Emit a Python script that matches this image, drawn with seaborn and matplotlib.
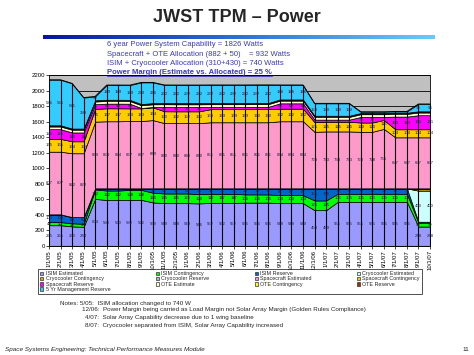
import numpy as np
import pandas as pd
import seaborn as sns
import matplotlib.pyplot as plt
from matplotlib.patches import Patch
from matplotlib.lines import Line2D

# dados ------------------------------------------------------------------------
datas = ['1/1/05', '2/1/05', '3/1/05', '4/1/05', '5/1/05', '6/1/05', '7/1/05', '8/1/05',
         '9/1/05', '10/1/05', '11/1/05', '12/1/05', '1/1/06', '2/1/06', '3/1/06', '4/1/06',
         '5/1/06', '6/1/06', '7/1/06', '8/1/06', '9/1/06', '10/1/06', '11/1/06', '12/1/06',
         '1/1/07', '2/1/07', '3/1/07', '4/1/07', '5/1/07', '6/1/07', '7/1/07', '8/1/07',
         '9/1/07', '10/1/07']

isim_est = [265, 265, 250, 244, 604, 590, 590, 592, 592, 559, 549, 549, 549, 546, 552, 552, 552,
            556, 556, 556, 549, 549, 549, 459, 459, 565, 565, 565, 565, 565, 565, 565, 248, 248]
isim_cont = [40, 40, 40, 40, 122, 122, 122, 128, 128, 125, 125, 125, 125, 120, 117, 117, 117,
             106, 106, 106, 104, 104, 104, 125, 125, 105, 105, 105, 105, 105, 105, 105, 50, 50]
isim_res = [100, 100, 80, 86, 14, 28, 28, 20, 20, 56, 66, 66, 66, 74, 71, 71, 71,
            78, 78, 78, 87, 87, 87, 156, 156, 70, 70, 70, 70, 70, 70, 70, 12, 12]
cryo_est = [0] * 32 + [400, 400]
cryo_cont = [0] * 32 + [20, 20]
cryo_res = [0] * 32 + [10, 10]
sc_est = [807, 807, 822, 822, 859, 864, 864, 867, 867, 879, 840, 840, 840, 840, 851, 851, 851,
          851, 851, 851, 864, 864, 864, 728, 733, 733, 733, 728, 728, 766, 657, 657, 657, 657]
sc_cont = [165, 165, 154, 154, 165, 167, 167, 163, 163, 164, 153, 152, 152, 152, 169, 169, 169,
           169, 170, 170, 162, 162, 162, 125, 125, 125, 125, 120, 120, 115, 104, 104, 104, 104]
sc_res = [125, 125, 114, 114, 60, 60, 60, 60, 5, 5, 56, 56, 56, 56, 29, 29, 29,
          29, 29, 29, 69, 69, 69, 32, 27, 27, 27, 72, 72, 39, 163, 163, 181, 181]
ote_est = [35] * 34
ote_cont = [10] * 34
ote_res = [5] * 34
mgmt_res = [586, 586, 581, 398, 50, 189, 189, 189, 279, 266, 232, 232, 232, 232, 232, 232, 232,
            232, 232, 232, 186, 186, 186, 159, 159, 159, 159, 16, 16, 16, 16, 16, 94, 94]

nomes = ['ISIM Estimated', 'ISIM Contingency', 'ISIM Reserve', 'Cryocooler Estimated',
         'Cryocooler Contingency', 'Cryocooler Reserve', 'Spacecraft Estimated',
         'Spacecraft Contingency', 'Spacecraft Reserve', 'OTE Estimate', 'OTE Contingency',
         'OTE Reserve', '5 Yr Management Reserve']
cores = ['#9999FF', '#00FF00', '#0066CC', '#CCFFFF', '#D4AA00', '#B0B0E0', '#FF99CC',
         '#FFCC00', '#FF00FF', '#FFFFCC', '#FFFF00', '#993300', '#33CCFF']

df = pd.DataFrame({
    'data': datas,
    nomes[0]: isim_est, nomes[1]: isim_cont, nomes[2]: isim_res,
    nomes[3]: cryo_est, nomes[4]: cryo_cont, nomes[5]: cryo_res,
    nomes[6]: sc_est, nomes[7]: sc_cont, nomes[8]: sc_res,
    nomes[9]: ote_est, nomes[10]: ote_cont, nomes[11]: ote_res,
    nomes[12]: mgmt_res,
})

# grafico ------------------------------------------------------------------------
sns.set_style('ticks')
plt.rcParams['font.family'] = ['Liberation Sans', 'DejaVu Sans']

W, H = 474, 355
fig = plt.figure(figsize=(W / 100, H / 100), dpi=100)
ax = fig.add_axes([49 / W, 1 - 245.8 / H, (430 - 49) / W, (245.8 - 75) / H])
ax.set_facecolor('#C0C0C0')

x = np.arange(len(df))
base = np.zeros(len(df))
for nome, cor in zip(nomes, cores):
    vals = df[nome].to_numpy()
    topo = base + vals
    ax.fill_between(x, base, topo, facecolor=cor, edgecolor='black', linewidth=0.5, zorder=2)
    # rotulos so nas faixas com altura suficiente
    for i, v in enumerate(vals):
        if v >= 40:
            ax.text(i, base[i] + v / 2, str(v), fontsize=3.1, ha='center', va='center',
                    color='#202040', zorder=6)
    base = topo

ax.vlines(x, 0, base, colors='black', linewidth=0.8, zorder=3)
sns.lineplot(x=x, y=base, color='black', linewidth=0.7, ax=ax, zorder=4)

ax.set_xlim(0, len(df) - 1)
ax.set_ylim(0, 2200)
ax.set_yticks(range(0, 2201, 200))
ax.set_xticks(x)
ax.set_xticklabels(datas, rotation=90)
ax.yaxis.grid(True, color='black', linewidth=0.6)
ax.set_axisbelow(True)
ax.tick_params(axis='both', labelsize=4.3, length=2, width=0.5, pad=1, colors='black')
for s in ax.spines.values():
    s.set_color('black')
    s.set_linewidth(0.6)

# legenda (ordem por linhas como no Excel)
handles = [Patch(facecolor=c, edgecolor='#333333', linewidth=0.5, label=n) for n, c in zip(nomes, cores)]
ordem = [0, 4, 8, 12, 1, 5, 9, 2, 6, 10, 3, 7, 11]
leg = fig.legend([handles[i] for i in ordem], [nomes[i] for i in ordem], ncol=4,
                 loc='upper left', bbox_to_anchor=(38 / W, 1 - 296 / H, 384 / W, 27 / H),
                 mode='expand', fontsize=3.9, frameon=True, fancybox=False,
                 edgecolor='black', borderaxespad=0, handlelength=0.6, handleheight=0.6,
                 handletextpad=0.4, labelspacing=0.05, columnspacing=1.0, borderpad=0.4)
leg.get_frame().set_linewidth(0.6)

# titulo e textos ------------------------------------------------------------------
fig.text(0.5, 1 - 18 / H, 'JWST TPM \u2013 Power', fontsize=13, weight='bold',
         ha='center', va='center')
barra = fig.add_axes([43 / W, 1 - 39.3 / H, (435 - 43) / W, 4.3 / H])
barra.imshow(np.linspace(0, 1, 256).reshape(1, -1), aspect='auto',
             cmap=plt.matplotlib.colors.LinearSegmentedColormap.from_list('b', ['#0A14A0', '#2F6FD8', '#66CCF5']))
barra.axis('off')

azul = '#3A3ABF'
linhas = ['6 year Power System Capability = 1826 Watts',
          'Spacecraft + OTE Allocation (882 + 50)    = 932 Watts',
          'ISIM + Cryocooler Allocation (310+430) = 740 Watts']
for txt, yy in zip(linhas, [45, 54.3, 63.7]):
    fig.text(107 / W, 1 - yy / H, txt, fontsize=5.5, color=azul, va='center', zorder=10)
t4 = fig.text(107 / W, 1 - 72.7 / H, 'Power Margin (Estimate vs. Allocated) = 25 %', fontsize=5.5,
              color=azul, weight='bold', va='center', zorder=10)
fig.canvas.draw()
bb = t4.get_window_extent()
fig.add_artist(Line2D([bb.x0 / W, bb.x1 / W], [(bb.y0 + 0.3) / H] * 2, color=azul,
                      linewidth=0.6, zorder=10))

fig.text(60 / W, 1 - 303 / H, 'Notes: 5/05:  ISIM allocation changed to 740 W', fontsize=4.5, va='center')
fig.text(82 / W, 1 - 310 / H, '12/06:  Power Margin being carried as Load Margin not Solar Array Margin (Golden Rules Compliance)',
         fontsize=4.5, va='center')
fig.text(85 / W, 1 - 317.7 / H, '4/07:  Solar Array Capability decrease due to 1 wing baseline', fontsize=4.5, va='center')
fig.text(85 / W, 1 - 325.7 / H, '8/07:  Cryocooler separated from ISIM, Solar Array Capability increased', fontsize=4.5, va='center')

fig.text(5 / W, 1 - 349.5 / H, 'Space Systems Engineering: Technical Performance Measures Module',
         fontsize=4.6, style='italic', va='center')
fig.text(469 / W, 1 - 349.5 / H, '11', fontsize=4.6, ha='right', va='center')

fig.savefig('out.png', dpi=100)
